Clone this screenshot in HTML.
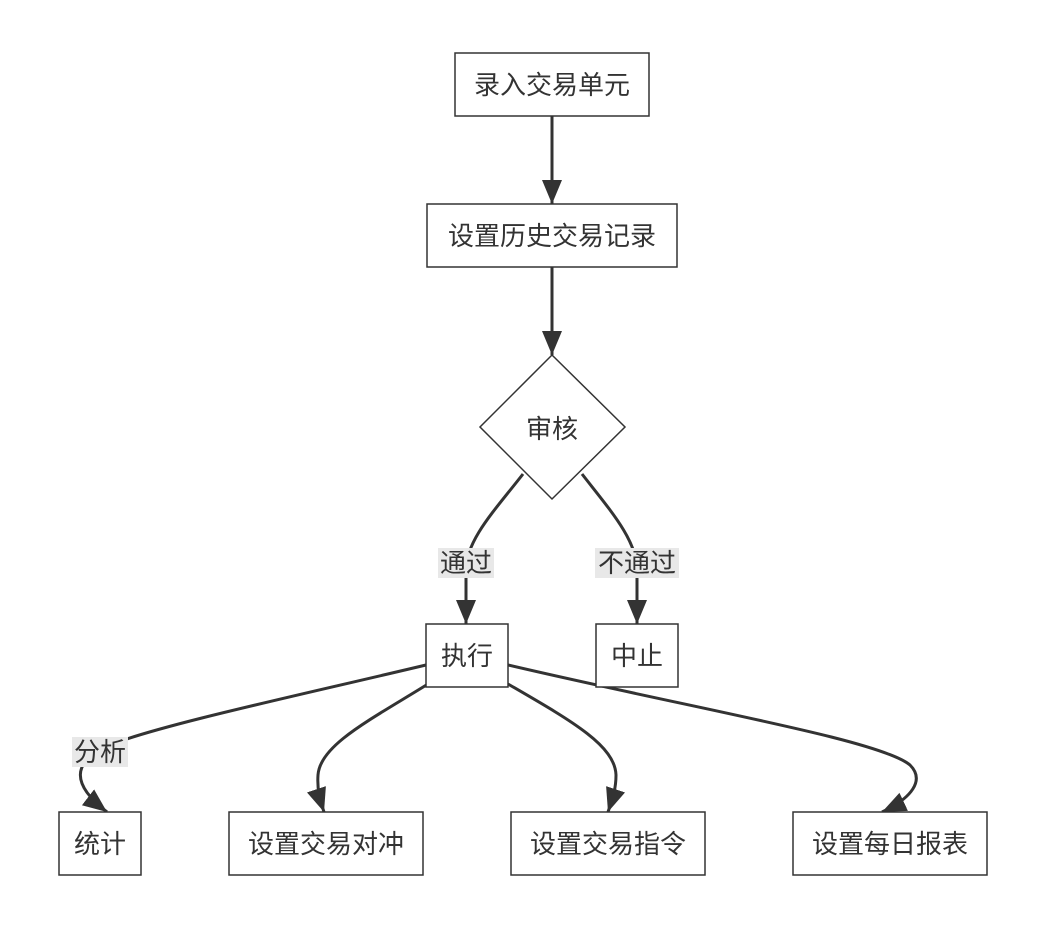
<!DOCTYPE html>
<html><head><meta charset="utf-8"><style>
html,body{margin:0;padding:0;background:#fff;}
text{font-family:"Liberation Sans","Noto Sans CJK SC",sans-serif;font-size:26px;fill:#333;}
</style></head><body>
<svg width="1046" height="932" viewBox="0 0 1046 932" xmlns="http://www.w3.org/2000/svg">
<defs>
<marker id="a" viewBox="0 0 12 10" refX="12" refY="5" markerWidth="8" markerHeight="7" markerUnits="strokeWidth" orient="auto">
<path d="M0,0 L12,5 L0,10 z" fill="#333"/></marker>
</defs>
<g fill="none" stroke="#333" stroke-width="3">
<path d="M552,116 L552,204" marker-end="url(#a)"/>
<path d="M552,267 L552,355" marker-end="url(#a)"/>
<path d="M523,474 C495,510 466,540 466,570 L466,624" marker-end="url(#a)"/>
<path d="M582,474 C610,510 637,540 637,570 L637,624" marker-end="url(#a)"/>
<path d="M426,665 C300,695 160,725 110,745 C70,762 72,785 107,812" marker-end="url(#a)"/>
<path d="M428,684 C370,720 320,745 318,775 C317,790 320,800 324,812" marker-end="url(#a)"/>
<path d="M508,684 C570,720 615,745 616,775 C616,790 612,800 608,812" marker-end="url(#a)"/>
<path d="M508,665 C700,710 880,740 910,765 C925,780 912,798 882,812" marker-end="url(#a)"/>
</g>
<g fill="#fff" stroke="#333" stroke-width="1.5">
<rect x="455" y="53" width="194" height="63"/>
<rect x="427" y="204" width="250" height="63"/>
<polygon points="552,355 625,427 552,499 480,427"/>
<rect x="426" y="624" width="82" height="63"/>
<rect x="596" y="624" width="82" height="63"/>
<rect x="59" y="812" width="82" height="63"/>
<rect x="229" y="812" width="194" height="63"/>
<rect x="511" y="812" width="194" height="63"/>
<rect x="793" y="812" width="194" height="63"/>
</g>
<g fill="#e8e8e8">
<rect x="438" y="548" width="56" height="30"/>
<rect x="595" y="548" width="84" height="30"/>
<rect x="72" y="737" width="56" height="30"/>
</g>
<g text-anchor="middle" dominant-baseline="central">
<text x="552" y="85">录入交易单元</text>
<text x="552" y="236">设置历史交易记录</text>
<text x="552" y="429">审核</text>
<text x="466" y="563">通过</text>
<text x="637" y="563">不通过</text>
<text x="467" y="656">执行</text>
<text x="637" y="656">中止</text>
<text x="100" y="752">分析</text>
<text x="100" y="844">统计</text>
<text x="326" y="844">设置交易对冲</text>
<text x="608" y="844">设置交易指令</text>
<text x="890" y="844">设置每日报表</text>
</g>
</svg>
</body></html>
